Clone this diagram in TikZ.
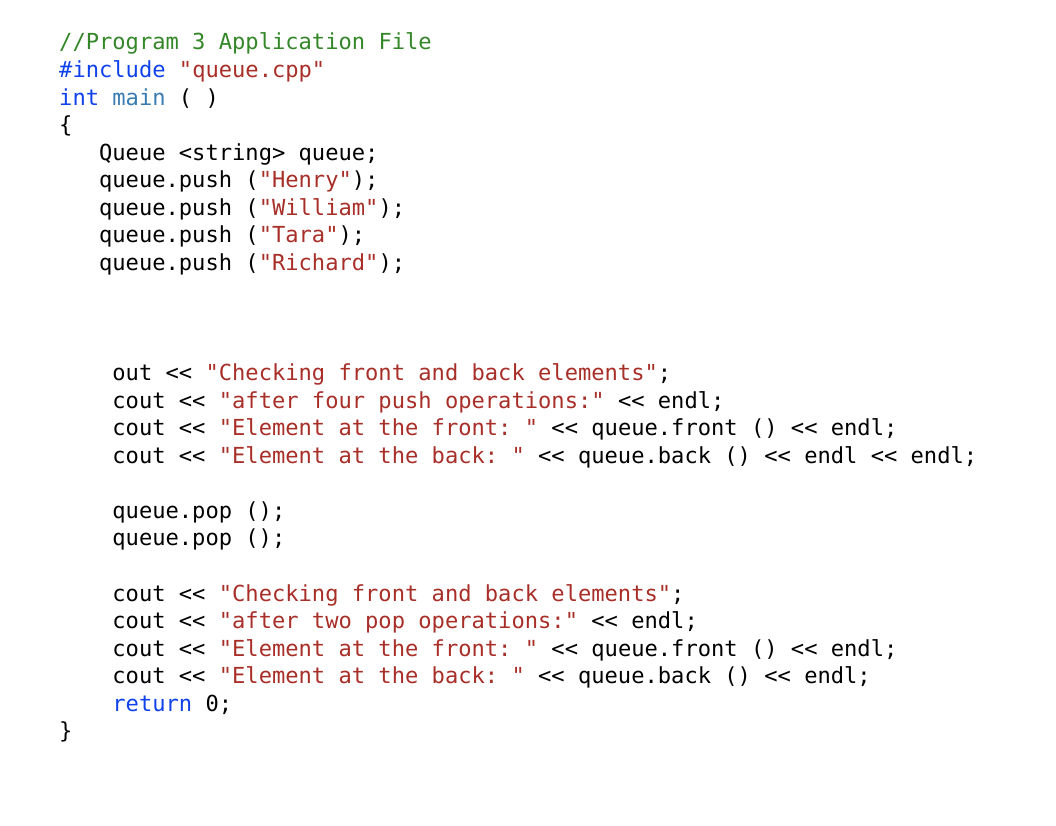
\documentclass[tikz,border=0pt]{standalone}
\usepackage{fontspec}
\setmonofont{DejaVu Sans Mono}
\definecolor{cmtgreen}{RGB}{52,135,40}
\definecolor{kwblue}{RGB}{16,66,235}
\definecolor{fnblue}{RGB}{58,124,178}
\definecolor{strred}{RGB}{168,46,40}
\newcommand{\cstr}[1]{\textcolor{strred}{#1}}
\newcommand{\ckw}[1]{\textcolor{kwblue}{#1}}

\begin{document}
\begin{tikzpicture}[x=1pt, y=-1pt,
    codeline/.style={anchor=base west, inner sep=0pt,
      font=\ttfamily\fontsize{22.1}{26}\selectfont}]
    \useasboundingbox (0,0) rectangle (1056,826);
    % header
    \node[codeline] (comment) at (59,50) {\textcolor{cmtgreen}{//Program 3 Application File}};
    \node[codeline] (include) at (59,77.55) {\ckw{\#include} \cstr{"queue.cpp"}};
    \node[codeline] (mainline) at (59,105.1) {\ckw{int} \textcolor{fnblue}{main} ( )};
    \node[codeline] (open) at (59,132.65) {\{};
    % pushes
    \node[codeline] (decl) at (98.9,160.2) {Queue <string> queue;};
    \node[codeline] (push1) at (98.9,187.75) {queue.push (\cstr{"Henry"});};
    \node[codeline] (push2) at (98.9,215.3) {queue.push (\cstr{"William"});};
    \node[codeline] (push3) at (98.9,242.85) {queue.push (\cstr{"Tara"});};
    \node[codeline] (push4) at (98.9,270.4) {queue.push (\cstr{"Richard"});};
    % after four pushes
    \node[codeline] (check1) at (112.2,380.6) {out << \cstr{"Checking front and back elements"};};
    \node[codeline] (after1) at (112.2,408.15) {cout << \cstr{"after four push operations:"} << endl;};
    \node[codeline] (front1) at (112.2,435.7) {cout << \cstr{"Element at the front: "} << queue.front () << endl;};
    \node[codeline] (back1) at (112.2,463.25) {cout << \cstr{"Element at the back: "} << queue.back () << endl << endl;};
    % pops
    \node[codeline] (pop1) at (112.2,518.35) {queue.pop ();};
    \node[codeline] (pop2) at (112.2,545.9) {queue.pop ();};
    % after two pops
    \node[codeline] (check2) at (112.2,601) {cout << \cstr{"Checking front and back elements"};};
    \node[codeline] (after2) at (112.2,628.55) {cout << \cstr{"after two pop operations:"} << endl;};
    \node[codeline] (front2) at (112.2,656.1) {cout << \cstr{"Element at the front: "} << queue.front () << endl;};
    \node[codeline] (back2) at (112.2,683.65) {cout << \cstr{"Element at the back: "} << queue.back () << endl;};
    \node[codeline] (ret) at (112.2,711.2) {\ckw{return} 0;};
    \node[codeline] (close) at (59,738.75) {\}};
\end{tikzpicture}
\end{document}
